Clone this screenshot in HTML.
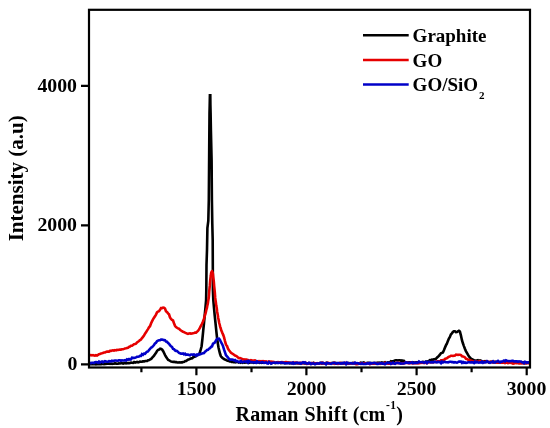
<!DOCTYPE html>
<html><head><meta charset="utf-8"><style>
html,body{margin:0;padding:0;background:#fff;}
svg{display:block;}
text{font-family:"Liberation Serif",serif;font-weight:bold;fill:#000;}
.c{fill:none;stroke-width:2.6;stroke-linejoin:miter;stroke-miterlimit:3;stroke-linecap:butt;}
.ax{fill:none;stroke:#000;stroke-width:2.2;}
</style></head><body>
<svg width="550" height="428" viewBox="0 0 550 428">
<rect width="550" height="428" fill="#fff"/>
<polyline class="c" stroke="#000" stroke-width="2.3" points="89.0,364.3 90.0,364.3 91.0,364.2 92.0,364.1 93.0,364.1 94.0,364.0 95.0,364.2 96.0,364.4 97.0,364.1 98.0,364.0 99.0,364.2 100.0,364.2 101.0,364.1 102.0,363.9 103.0,364.0 104.0,364.1 105.0,363.7 106.0,363.9 107.0,363.5 108.1,363.6 109.1,363.5 110.1,363.8 111.1,363.6 112.1,363.9 113.1,363.8 114.1,363.7 115.1,363.2 116.1,363.6 117.1,363.7 118.1,363.6 119.1,363.3 120.1,363.5 121.1,363.3 122.1,363.3 123.1,363.6 124.1,363.2 125.1,363.3 126.1,363.4 127.1,363.1 128.1,363.1 129.1,363.1 130.1,363.0 131.1,362.6 132.1,362.8 133.1,362.9 134.1,362.1 135.1,362.5 136.1,362.2 137.1,361.9 138.1,362.4 139.1,362.0 140.1,361.5 141.1,361.7 142.1,361.6 143.1,361.3 144.2,361.4 145.2,361.0 146.2,361.0 147.2,360.9 148.2,360.2 149.2,360.0 150.2,359.4 151.2,358.9 152.2,357.7 153.2,356.7 154.2,355.4 155.2,353.9 156.2,352.5 157.2,350.7 158.2,349.8 159.2,349.5 160.2,348.6 161.2,348.9 162.2,349.7 163.2,351.2 164.2,353.3 165.2,355.3 166.2,357.0 167.2,358.5 168.2,359.9 169.2,360.3 170.2,361.0 171.2,361.6 172.2,361.7 173.2,361.9 174.2,361.8 175.2,362.1 176.2,362.1 177.2,362.5 178.2,362.5 179.2,362.4 180.2,362.5 181.3,362.2 182.3,362.3 183.3,361.9 184.3,361.7 185.3,361.0 186.3,360.9 187.3,360.1 188.3,359.6 189.3,359.4 190.3,358.7 191.3,358.4 192.3,358.3 193.3,357.2 194.3,356.8 195.3,356.5 196.3,356.0 197.3,355.2 198.3,354.6 199.3,354.1 200.5,350.5 201.6,346.2 202.4,339.0 203.2,330.8 204.0,323.0 204.7,315.4 205.5,307.0 206.1,300.0 206.3,290.0 206.5,265.0 207.0,250.0 207.4,228.0 208.3,221.0 208.8,200.0 209.2,150.0 209.5,113.0 209.7,105.0 209.9,95.2 210.3,95.2 210.4,105.0 210.6,113.0 210.9,130.0 211.6,160.0 211.9,200.0 212.3,224.0 212.7,240.0 212.9,290.0 213.3,300.0 214.0,308.0 214.7,315.4 215.5,323.0 216.3,330.8 217.0,337.5 217.8,343.2 218.5,347.5 219.3,350.9 220.1,354.0 220.9,356.3 222.5,358.0 224.7,359.4 225.7,359.6 226.7,360.3 227.7,360.8 228.7,360.9 229.7,361.4 230.7,361.4 231.7,362.0 232.7,362.0 233.7,362.1 234.7,362.1 235.7,362.3 236.7,361.9 237.7,362.1 238.7,362.5 239.7,361.9 240.7,362.7 241.7,362.0 242.7,362.7 243.7,362.3 244.7,362.7 245.7,362.5 246.7,362.1 247.7,362.8 248.7,362.9 249.7,362.5 250.7,362.5 251.7,362.5 252.7,362.3 253.7,362.8 254.7,362.4 255.7,362.6 256.7,362.4 257.7,362.4 258.7,362.3 259.7,362.9 260.7,362.6 261.7,362.9 262.7,362.6 263.7,362.5 264.7,362.6 265.7,362.5 266.7,362.7 267.7,362.6 268.7,362.7 269.7,362.4 270.7,362.6 271.7,363.2 272.7,362.6 273.7,362.6 274.7,362.9 275.8,363.2 276.8,362.5 277.8,362.8 278.8,362.8 279.8,362.5 280.8,363.1 281.8,363.0 282.8,363.0 283.8,362.8 284.8,363.1 285.8,362.9 286.8,363.0 287.8,362.8 288.8,362.8 289.8,363.4 290.8,363.0 291.8,363.2 292.8,363.1 293.8,363.0 294.8,363.0 295.8,363.3 296.8,363.1 297.8,363.2 298.8,363.2 299.8,363.5 300.8,363.4 301.8,363.3 302.8,363.1 303.8,362.9 304.8,363.5 305.8,363.5 306.8,363.2 307.8,363.4 308.8,363.4 309.8,363.4 310.8,363.5 311.8,363.1 312.8,363.6 313.8,362.9 314.8,363.5 315.8,363.4 316.8,363.5 317.8,363.7 318.8,363.6 319.8,363.0 320.8,362.8 321.8,363.5 322.8,363.0 323.8,363.3 324.8,363.5 325.8,362.9 326.8,362.7 327.8,363.3 328.8,363.3 329.8,363.2 330.8,363.3 331.8,363.1 332.8,362.9 333.8,363.2 334.8,363.0 335.8,362.9 336.8,363.4 337.8,363.3 338.8,363.4 339.8,363.0 340.8,363.1 341.8,363.0 342.8,363.1 343.8,363.3 344.8,363.1 345.8,363.4 346.8,363.4 347.8,363.8 348.8,363.0 349.8,363.5 350.8,363.3 351.8,363.3 352.8,362.9 353.8,363.2 354.8,363.5 355.8,363.3 356.8,363.3 357.8,363.2 358.8,363.5 359.8,363.2 360.8,362.7 361.8,363.0 362.8,362.7 363.8,362.4 364.8,363.0 365.8,363.5 366.8,363.1 367.8,362.8 368.8,362.8 369.8,363.3 370.8,363.1 371.8,363.0 372.8,363.0 373.8,363.0 374.8,363.1 375.8,363.0 376.8,362.9 377.9,362.6 378.9,363.0 379.9,362.6 380.9,363.1 381.9,362.4 382.9,362.7 383.9,362.7 384.9,362.3 385.9,363.1 386.9,362.9 387.9,362.4 388.9,362.6 389.9,362.3 390.9,361.3 391.9,361.7 392.9,361.3 393.9,361.0 394.9,360.4 395.9,360.3 396.9,360.2 397.9,360.4 398.9,360.2 399.9,360.2 400.9,360.8 401.9,360.5 402.9,360.9 403.9,360.9 404.9,362.0 405.9,362.2 406.9,362.4 407.9,362.5 408.9,362.3 409.9,362.4 410.9,362.3 411.9,362.3 412.9,362.4 413.9,362.8 414.9,362.5 415.9,362.4 416.9,362.2 417.9,362.2 418.9,362.8 419.9,362.5 420.9,362.4 421.9,362.2 422.9,361.9 423.9,362.1 424.9,362.2 425.9,361.6 426.9,361.5 427.9,361.3 428.9,361.0 429.9,360.1 430.9,360.2 431.9,359.7 432.9,359.9 433.9,359.2 434.9,359.1 435.9,358.8 436.9,357.7 437.9,356.8 438.9,355.9 439.9,354.7 440.9,353.3 441.9,352.9 442.9,352.5 443.9,350.3 444.9,347.8 445.9,345.4 446.9,343.6 447.9,340.9 448.9,338.5 449.9,337.0 450.9,334.4 451.9,333.3 452.9,332.0 453.9,331.2 454.9,331.2 455.9,332.2 456.9,332.0 457.9,331.4 458.9,330.8 459.9,331.6 460.9,335.3 461.9,340.0 462.9,343.3 463.9,346.1 464.9,348.7 465.9,351.1 466.9,352.9 467.9,354.7 468.9,356.3 469.9,357.5 470.9,358.4 471.9,359.2 472.9,359.7 473.9,360.2 474.9,360.8 475.9,360.6 476.9,360.6 477.9,360.3 478.9,361.0 480.0,360.5 481.0,360.8 482.0,361.5 483.0,361.6 484.0,361.5 485.0,361.2 486.0,361.6 487.0,361.6 488.0,362.0 489.0,362.5 490.0,362.1 491.0,361.9 492.0,361.8 493.0,362.1 494.0,362.1 495.0,361.9 496.0,362.3 497.0,362.0 498.0,362.6 499.0,362.6 500.0,362.7 501.0,362.3 502.0,362.6 503.0,362.4 504.0,362.4 505.0,362.4 506.0,362.2 507.0,362.2 508.0,362.8 509.0,362.5 510.0,362.6 511.0,362.9 512.0,362.2 513.0,362.4 514.0,362.7 515.0,362.8 516.0,362.6 517.0,363.0 518.0,362.8 519.0,362.4 520.0,362.5 521.0,363.0 522.0,362.9 523.0,362.3 524.0,363.1 525.0,362.9 526.0,363.1 527.0,362.7 528.0,362.7 529.0,362.5 530.0,363.4"/>
<polyline class="c" stroke="#e60000" points="89.0,354.5 90.0,355.2 91.0,355.0 92.0,355.4 93.0,355.1 94.0,355.4 95.0,355.7 96.0,355.2 97.0,355.5 98.0,354.9 99.0,354.2 100.0,353.9 101.0,353.6 102.0,353.3 103.0,352.9 104.0,352.6 105.0,352.4 106.0,351.9 107.0,351.6 108.0,351.6 109.0,351.6 110.0,350.9 111.0,350.9 112.0,350.6 113.0,350.4 114.0,350.6 115.0,350.1 116.0,350.4 117.0,349.8 118.0,350.0 119.0,349.7 120.0,349.5 121.0,349.6 122.0,349.3 123.0,349.3 124.0,348.9 125.0,348.4 126.0,348.3 127.0,348.0 128.0,347.8 129.0,346.9 130.0,346.6 131.0,345.8 132.0,345.8 133.0,345.0 134.0,344.3 135.0,344.1 136.0,343.7 137.0,342.5 138.0,341.8 139.0,341.0 140.0,340.1 141.0,339.5 142.0,338.1 143.0,336.9 144.0,335.6 145.0,333.7 146.0,332.4 147.0,330.6 148.0,329.1 149.0,327.3 150.0,326.2 151.0,323.5 152.0,321.4 153.0,319.4 154.0,317.8 155.0,316.2 156.0,314.6 157.0,312.4 158.0,311.6 159.0,311.2 160.0,309.8 161.0,308.1 162.0,308.1 163.0,307.7 164.0,307.8 165.0,308.6 166.0,311.3 167.0,311.9 168.0,313.3 169.0,314.3 170.0,317.5 171.0,319.0 172.0,319.9 173.0,320.5 174.0,323.3 175.0,325.8 176.0,327.0 177.0,327.7 178.0,328.4 179.0,328.7 180.0,329.7 181.0,330.5 182.0,331.2 183.0,331.7 184.0,332.1 185.0,332.7 186.0,333.1 187.0,333.5 188.0,333.8 189.0,333.5 190.0,333.4 191.0,333.6 192.0,333.4 193.0,333.2 194.0,333.1 195.0,332.6 196.0,332.6 197.0,331.7 198.0,330.9 199.0,329.4 200.0,327.6 201.0,325.6 202.0,323.8 203.0,321.4 204.0,318.7 205.0,315.2 205.5,313.4 205.8,312.4 206.0,311.5 206.2,310.5 206.5,309.4 206.8,308.5 207.0,307.4 207.2,306.2 207.5,305.0 207.8,303.7 208.0,302.3 208.2,300.9 208.5,299.2 208.8,297.3 209.0,294.8 209.2,291.9 209.5,288.7 209.8,285.7 210.0,283.0 210.2,280.6 210.5,278.0 210.8,275.8 211.0,274.0 211.2,272.8 211.5,272.0 211.8,271.4 212.0,271.3 212.2,271.7 212.5,272.3 212.8,273.1 213.0,274.6 213.2,276.8 213.5,279.1 213.8,281.3 214.0,283.9 214.2,286.4 214.5,289.2 214.8,292.0 215.0,294.8 215.2,297.7 215.5,299.9 215.8,301.9 216.0,303.6 216.2,305.3 216.5,306.8 216.8,308.5 217.0,310.3 217.2,312.0 217.5,313.6 217.8,315.1 218.0,316.5 218.2,317.9 218.5,319.3 218.8,320.6 219.0,321.8 219.2,323.0 219.5,324.0 219.8,325.0 220.0,326.0 220.2,326.9 220.5,327.8 220.8,328.6 221.0,329.4 221.2,330.2 221.5,330.8 221.8,331.4 222.0,332.2 222.2,332.7 222.5,333.3 222.8,333.8 223.0,334.5 223.2,335.1 223.5,335.8 223.8,336.5 224.0,337.3 224.2,338.2 224.5,339.1 224.8,340.1 225.0,341.1 226.0,344.7 227.0,346.0 228.0,348.7 229.0,350.3 230.0,351.5 231.0,352.8 232.0,353.5 233.0,354.0 234.0,354.7 235.0,355.5 236.0,355.8 237.0,356.6 238.0,357.4 239.0,358.2 240.0,358.0 241.0,358.4 242.0,358.8 243.0,359.5 244.0,359.3 245.0,360.0 246.0,359.4 247.0,359.9 248.0,360.0 249.0,360.5 250.0,360.7 251.0,360.1 252.0,360.4 253.0,360.8 254.0,360.6 255.0,360.4 256.0,361.3 257.0,361.2 258.0,361.2 259.0,361.0 260.0,361.5 261.0,361.2 262.0,361.6 263.0,361.1 264.0,361.2 265.0,361.5 266.0,361.3 267.0,361.8 268.0,361.7 269.0,361.4 270.0,361.8 271.0,361.7 272.0,362.2 273.0,361.8 274.0,361.9 275.0,362.4 276.0,362.8 277.0,362.8 278.0,362.2 279.0,362.3 280.0,362.8 281.0,362.3 282.0,362.1 283.0,362.5 284.0,362.6 285.0,362.3 286.0,362.1 287.0,362.2 288.0,362.8 289.0,362.5 290.0,362.7 291.0,362.8 292.0,363.0 293.0,362.7 294.0,363.0 295.0,362.6 296.0,362.8 297.0,362.6 298.0,363.3 299.0,363.0 300.0,362.8 301.0,362.9 302.0,363.0 303.0,363.3 304.0,362.6 305.0,362.8 306.0,363.0 307.0,363.9 308.0,363.4 309.0,363.1 310.0,363.4 311.0,363.8 312.0,363.1 313.0,363.1 314.0,363.6 315.0,363.4 316.0,363.4 317.0,363.1 318.0,363.8 319.0,363.8 320.0,363.4 321.0,363.5 322.0,362.7 323.0,363.5 324.0,363.2 325.0,363.4 326.0,363.5 327.0,363.2 328.0,362.8 329.0,363.5 330.0,363.1 331.0,363.3 332.0,363.2 333.0,363.3 334.0,362.7 335.0,363.8 336.0,363.5 337.0,363.8 338.0,364.0 339.0,363.4 340.0,362.9 341.0,363.2 342.0,363.1 343.0,363.3 344.0,363.5 345.0,362.9 346.0,363.6 347.0,363.0 348.0,363.6 349.0,363.4 350.0,363.4 351.0,363.5 352.0,363.3 353.0,363.3 354.0,363.0 355.0,363.5 356.0,364.1 357.0,364.1 358.0,363.9 359.0,363.7 360.0,363.3 361.0,363.9 362.0,363.5 363.0,363.5 364.0,363.4 365.0,363.5 366.0,363.4 367.0,363.5 368.0,363.2 369.0,363.4 370.0,364.2 371.0,363.5 372.0,363.4 373.0,363.6 374.0,363.7 375.0,363.1 376.0,363.4 377.0,363.7 378.0,363.5 379.0,363.5 380.0,363.9 381.0,363.2 382.0,363.5 383.0,363.3 384.0,363.9 385.0,362.8 386.0,363.2 387.0,363.2 388.0,363.6 389.0,363.6 390.0,363.8 391.0,362.9 392.0,363.6 393.0,363.3 394.0,363.2 395.0,363.5 396.0,363.1 397.0,362.7 398.0,363.2 399.0,362.9 400.0,363.1 401.0,363.4 402.0,363.4 403.0,363.7 404.0,363.2 405.0,362.8 406.0,363.0 407.0,362.9 408.0,362.8 409.0,363.3 410.0,363.0 411.0,362.5 412.0,363.3 413.0,363.1 414.0,363.2 415.0,363.1 416.0,363.2 417.0,363.0 418.0,363.3 419.0,363.1 420.0,363.0 421.0,363.0 422.0,362.4 423.0,362.8 424.0,362.7 425.0,362.8 426.0,362.3 427.0,363.1 428.0,362.6 429.0,362.2 430.0,362.0 431.0,362.4 432.0,362.3 433.0,362.0 434.0,362.2 435.0,361.8 436.0,362.0 437.0,361.4 438.0,361.4 439.0,361.4 440.0,361.7 441.0,360.4 442.0,360.4 443.0,360.0 444.0,360.1 445.0,358.9 446.0,358.6 447.0,358.2 448.0,357.3 449.0,356.7 450.0,356.4 451.0,355.7 452.0,355.7 453.0,355.9 454.0,355.8 455.0,355.5 456.0,354.7 457.0,354.8 458.0,354.9 459.0,354.8 460.0,354.8 461.0,355.1 462.0,356.2 463.0,356.4 464.0,356.8 465.0,357.5 466.0,358.8 467.0,359.0 468.0,359.8 469.0,359.8 470.0,360.6 471.0,360.5 472.0,360.8 473.0,361.8 474.0,361.4 475.0,361.2 476.0,361.4 477.0,361.6 478.0,361.9 479.0,361.5 480.0,361.1 481.0,361.5 482.0,361.6 483.0,361.6 484.0,362.0 485.0,361.7 486.0,361.8 487.0,361.3 488.0,361.9 489.0,362.2 490.0,361.9 491.0,361.8 492.0,361.8 493.0,362.4 494.0,361.7 495.0,362.1 496.0,362.4 497.0,362.6 498.0,362.3 499.0,362.6 500.0,362.5 501.0,362.7 502.0,362.6 503.0,362.3 504.0,362.7 505.0,363.0 506.0,362.5 507.0,362.7 508.0,363.0 509.0,362.5 510.0,362.9 511.0,362.5 512.0,363.2 513.0,363.6 514.0,363.5 515.0,362.8 516.0,363.1 517.0,363.0 518.0,363.0 519.0,363.4 520.0,362.6 521.0,363.3 522.0,363.0 523.0,363.4 524.0,363.0 525.0,362.8 526.0,363.1 527.0,363.2 528.0,363.0 529.0,363.1 530.0,362.8"/>
<polyline class="c" stroke="#0000c8" points="89.0,362.0 90.0,363.2 91.0,363.1 92.0,362.8 93.0,362.7 94.0,363.0 95.0,362.3 96.0,362.1 97.0,362.3 98.0,362.7 99.0,361.6 100.0,362.6 101.0,361.8 102.0,361.5 103.0,362.3 104.0,361.7 105.0,361.1 106.0,361.4 107.0,361.8 108.0,361.8 109.0,361.1 110.0,361.3 111.0,361.4 112.0,360.7 113.0,361.1 114.0,360.8 115.0,360.5 116.0,360.5 117.0,360.7 118.0,360.6 119.0,360.3 120.0,360.3 121.0,360.8 122.0,360.4 123.0,360.5 124.0,360.5 125.0,360.2 126.0,360.7 127.0,359.3 128.0,359.7 129.0,359.1 130.0,359.7 131.0,359.4 132.0,357.6 133.0,357.7 134.0,358.0 135.0,357.7 136.0,357.4 137.0,356.8 138.0,356.7 139.0,356.5 140.0,355.8 141.0,355.9 142.0,354.1 143.0,354.8 144.0,353.6 145.0,353.8 146.0,352.6 147.0,351.7 148.0,351.4 149.0,350.0 150.0,349.0 151.0,347.7 152.0,347.1 153.0,346.1 154.0,345.0 155.0,343.4 156.0,342.7 157.0,341.3 158.0,340.6 159.0,340.3 160.0,340.3 161.0,339.6 162.0,339.6 163.0,339.7 164.0,340.1 165.0,340.2 166.0,341.5 167.0,341.7 168.0,343.1 169.0,343.7 170.0,345.2 171.0,346.3 172.0,346.9 173.0,348.9 174.0,349.1 175.0,350.4 176.0,350.9 177.0,351.0 178.0,351.9 179.0,352.9 180.0,353.2 181.0,353.6 182.0,353.7 183.0,353.4 184.0,354.3 185.0,353.7 186.0,354.8 187.0,354.5 188.0,354.6 189.0,354.9 190.0,355.2 191.0,354.5 192.0,354.5 193.0,354.8 194.0,354.4 195.0,354.8 196.0,355.7 197.0,354.5 198.0,355.0 199.0,354.0 200.0,354.4 201.0,353.9 202.0,353.6 203.0,353.3 204.0,353.1 205.0,351.8 206.0,351.1 207.0,350.0 208.0,349.8 209.0,348.7 210.0,348.2 211.0,346.9 212.0,346.5 213.0,343.7 214.0,343.1 215.0,342.4 216.0,340.4 217.0,339.0 218.0,338.8 219.0,338.7 220.0,340.0 221.0,342.2 222.0,343.8 223.0,346.1 224.0,349.4 225.0,352.4 226.0,355.2 227.0,356.3 228.0,357.5 229.0,358.9 230.0,359.6 231.0,359.6 232.0,359.6 233.0,359.8 234.0,360.4 235.0,360.0 236.0,361.3 237.0,360.9 238.0,361.5 239.0,362.2 240.0,362.0 241.0,361.1 242.0,362.0 243.0,362.2 244.0,361.5 245.0,361.5 246.0,361.9 247.0,361.3 248.0,362.6 249.0,361.1 250.0,361.7 251.0,362.0 252.0,362.1 253.0,362.3 254.0,362.4 255.0,362.2 256.0,362.8 257.0,361.5 258.0,362.4 259.0,362.1 260.0,362.5 261.0,362.5 262.0,362.1 263.0,362.3 264.0,362.9 265.0,362.7 266.0,362.3 267.0,363.4 268.0,363.6 269.0,362.1 270.0,362.8 271.0,363.7 272.0,363.0 273.0,362.8 274.0,362.7 275.0,362.6 276.0,362.7 277.0,362.6 278.0,363.1 279.0,362.7 280.0,362.7 281.0,362.4 282.0,362.9 283.0,362.6 284.0,362.9 285.0,363.4 286.0,363.1 287.0,363.2 288.0,363.1 289.0,363.0 290.0,363.0 291.0,362.9 292.0,363.4 293.0,362.6 294.0,363.6 295.0,363.1 296.0,362.8 297.0,362.9 298.0,362.9 299.0,363.2 300.0,362.9 301.0,363.6 302.0,362.9 303.0,362.3 304.0,362.9 305.0,362.4 306.0,363.2 307.0,363.7 308.0,363.5 309.0,362.7 310.0,363.0 311.0,364.0 312.0,363.4 313.0,363.3 314.0,363.7 315.0,364.3 316.0,363.8 317.0,363.4 318.0,363.5 319.0,363.6 320.0,363.1 321.0,362.9 322.0,363.4 323.0,363.0 324.0,363.3 325.0,363.4 326.0,364.3 327.0,363.0 328.0,363.3 329.0,363.3 330.0,363.6 331.0,363.8 332.0,363.2 333.0,363.1 334.0,362.8 335.0,363.0 336.0,363.6 337.0,363.4 338.0,363.0 339.0,363.3 340.0,363.4 341.0,363.6 342.0,363.2 343.0,363.3 344.0,362.7 345.0,363.0 346.0,364.1 347.0,362.6 348.0,363.3 349.0,363.5 350.0,363.3 351.0,363.1 352.0,363.4 353.0,363.5 354.0,363.4 355.0,362.7 356.0,363.4 357.0,363.1 358.0,363.3 359.0,363.6 360.0,363.7 361.0,363.8 362.0,363.3 363.0,363.9 364.0,364.0 365.0,363.9 366.0,364.0 367.0,363.4 368.0,363.4 369.0,363.8 370.0,362.9 371.0,363.6 372.0,363.3 373.0,363.3 374.0,362.8 375.0,363.1 376.0,363.5 377.0,363.9 378.0,363.9 379.0,363.5 380.0,363.4 381.0,363.2 382.0,363.7 383.0,363.4 384.0,363.7 385.0,364.2 386.0,363.4 387.0,362.8 388.0,363.1 389.0,362.8 390.0,362.9 391.0,363.9 392.0,363.4 393.0,362.7 394.0,363.6 395.0,363.8 396.0,363.1 397.0,362.9 398.0,363.1 399.0,363.3 400.0,363.4 401.0,363.6 402.0,363.5 403.0,363.5 404.0,363.5 405.0,363.2 406.0,362.3 407.0,362.8 408.0,363.0 409.0,362.7 410.0,363.1 411.0,362.6 412.0,362.3 413.0,363.3 414.0,362.9 415.0,362.7 416.0,362.9 417.0,363.0 418.0,362.6 419.0,361.5 420.0,362.2 421.0,362.2 422.0,362.0 423.0,362.4 424.0,362.8 425.0,362.1 426.0,361.8 427.0,363.1 428.0,362.1 429.0,361.7 430.0,362.3 431.0,362.4 432.0,361.9 433.0,362.5 434.0,361.9 435.0,361.7 436.0,362.2 437.0,362.4 438.0,361.8 439.0,362.2 440.0,362.0 441.0,363.1 442.0,361.7 443.0,362.5 444.0,361.9 445.0,361.9 446.0,362.2 447.0,362.3 448.0,362.4 449.0,362.0 450.0,361.7 451.0,361.7 452.0,362.1 453.0,362.1 454.0,362.5 455.0,362.1 456.0,362.4 457.0,362.6 458.0,362.1 459.0,361.5 460.0,361.6 461.0,361.6 462.0,362.8 463.0,361.9 464.0,362.8 465.0,362.5 466.0,363.0 467.0,362.8 468.0,362.3 469.0,362.3 470.0,362.4 471.0,362.5 472.0,362.2 473.0,362.4 474.0,363.0 475.0,361.7 476.0,362.5 477.0,362.0 478.0,362.4 479.0,362.7 480.0,362.3 481.0,362.6 482.0,361.7 483.0,362.8 484.0,362.1 485.0,362.5 486.0,362.3 487.0,361.2 488.0,361.9 489.0,362.3 490.0,362.8 491.0,362.3 492.0,362.2 493.0,361.4 494.0,362.5 495.0,362.5 496.0,361.7 497.0,361.5 498.0,360.8 499.0,361.7 500.0,362.3 501.0,361.5 502.0,361.6 503.0,361.2 504.0,360.6 505.0,361.4 506.0,360.3 507.0,360.7 508.0,360.9 509.0,361.2 510.0,361.1 511.0,361.2 512.0,360.9 513.0,360.8 514.0,361.5 515.0,361.4 516.0,361.3 517.0,361.4 518.0,361.8 519.0,361.3 520.0,361.5 521.0,361.5 522.0,362.3 523.0,362.4 524.0,363.1 525.0,361.8 526.0,362.1 527.0,362.8 528.0,362.4 529.0,362.4 530.0,363.2"/>
<rect class="ax" x="89" y="9.8" width="441" height="357.7"/>
<g class="ax">
<path d="M81,85.9H89M81,225.3H89M81,364.4H89"/>
<path d="M141.4,367.5V372.2M196.4,367.5V375.2M251.5,367.5V372.2M306.4,367.5V375.2M361.5,367.5V372.2M416.6,367.5V375.2M471.6,367.5V372.2M526.7,367.5V375.2"/>
</g>
<g font-size="18">
<text transform="translate(77,91.8) scale(1.1,1)" text-anchor="end">4000</text>
<text transform="translate(77,231.2) scale(1.1,1)" text-anchor="end">2000</text>
<text transform="translate(77.3,370.3) scale(1.1,1)" text-anchor="end">0</text>
<text transform="translate(196.6,395) scale(1.1,1)" text-anchor="middle">1500</text>
<text transform="translate(306.5,395) scale(1.1,1)" text-anchor="middle">2000</text>
<text transform="translate(416.6,395) scale(1.1,1)" text-anchor="middle">2500</text>
<text transform="translate(526.5,395) scale(1.1,1)" text-anchor="middle">3000</text>
</g>
<g font-size="20"><text x="235.6" y="420.8" letter-spacing="0.15">Raman</text><text x="304.4" y="420.8" letter-spacing="0.55">Shift</text><text x="352.7" y="420.8" letter-spacing="0.1">(cm</text><text x="386" y="409" font-size="11.5" letter-spacing="0.3">-1</text><text x="396.3" y="420.8">)</text></g>
<text transform="translate(22.7,241.3) rotate(-90)" font-size="21">Intensity (a.u)</text>
<g stroke-width="2.5" fill="none">
<path d="M363,35.3H408.7" stroke="#000"/>
<path d="M363,60.1H408.7" stroke="#e60000"/>
<path d="M363,84.4H408.7" stroke="#0000c8"/>
</g>
<g font-size="18">
<text transform="translate(412.6,42.3) scale(1.056,1)">Graphite</text>
<text transform="translate(412.6,67.2) scale(1.056,1)">GO</text>
<text transform="translate(412.6,91.1) scale(1.056,1)">GO/SiO<tspan font-size="10.5" dx="0.8" dy="8">2</tspan></text>
</g>
</svg>
</body></html>
